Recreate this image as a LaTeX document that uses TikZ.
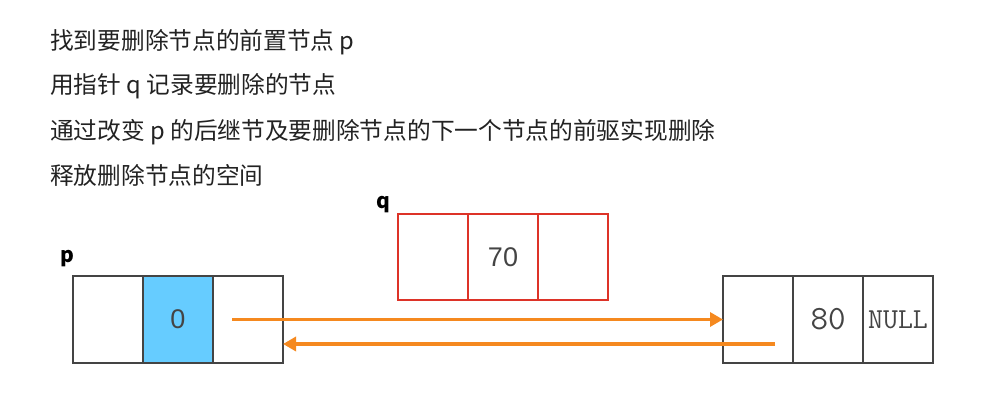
\documentclass[tikz,border=0pt]{standalone}
\usepackage{fontspec}
\usepackage{tikz}
\usetikzlibrary{positioning}
\usetikzlibrary{arrows.meta}
\newfontfamily\cjk{Noto Sans CJK SC}
\newfontfamily\numfont{Liberation Sans}
\definecolor{boxgray}{HTML}{444444}
\definecolor{txtgray}{HTML}{222222}
\definecolor{qred}{HTML}{DD3328}
\definecolor{datablue}{HTML}{66CCFF}
\definecolor{linkorange}{HTML}{F5891F}

\begin{document}
\begin{tikzpicture}[x=1pt, y=1pt,
        cell/.style={draw=boxgray, line width=1.4pt, minimum width=70pt, minimum height=87pt, inner sep=0pt, outer sep=0pt, text=boxgray, font=\numfont\fontsize{27}{30}\selectfont},
        qcell/.style={cell, draw=qred, line width=2pt, minimum height=86pt},
        note/.style={anchor=base west, inner sep=0pt, text=txtgray, font=\cjk\fontsize{23.7}{28}\selectfont},
        ptr/.style={anchor=base west, inner sep=0pt, text=black, font=\cjk\bfseries\fontsize{21}{24}\selectfont},
        link/.style={draw=linkorange, line width=3.5pt, -{Triangle[length=13pt,width=14pt]}}]
        \useasboundingbox (0,0) rectangle (984,409);
        % steps
        \node (line1) at (50,359) [note] {找到要删除节点的前置节点 p};
        \node (line2) at (50,315) [note] {用指针 q 记录要删除的节点};
        \node (line3) at (50,269) [note] {通过改变 p 的后继节及要删除节点的下一个节点的前驱实现删除};
        \node (line4) at (50,224) [note] {释放删除节点的空间};
        % node p
        \node (p1) at (108,89.5) [cell] {};
        \node (p2) [cell, fill=datablue, right=0pt of p1] {0};
        \node (p3) [cell, right=0pt of p2] {};
        \node (plabel) at (60,146) [ptr] {p};
        % node q
        \node (q1) at (433,152) [qcell] {};
        \node (q2) [qcell, right=0pt of q1] {70};
        \node (q3) [qcell, right=0pt of q2] {};
        \node (qlabel) at (376,200) [ptr] {q};
        % next node
        \node (n1) at (758,89.5) [cell] {};
        \node (n2) [cell, right=0pt of n1, font=\ttfamily\fontsize{34}{36}\selectfont] {80};
        \node (n3) [cell, right=0pt of n2, font=\ttfamily\fontsize{29}{31}\selectfont] {NULL};
        \coordinate (fwd) at (232,89.5);
        \coordinate (back) at (775,65);
        \draw (fwd) [link] -- (n1.west);
        \draw (back) [link] -- (back -| p3.east);
    \end{tikzpicture}
\end{document}
